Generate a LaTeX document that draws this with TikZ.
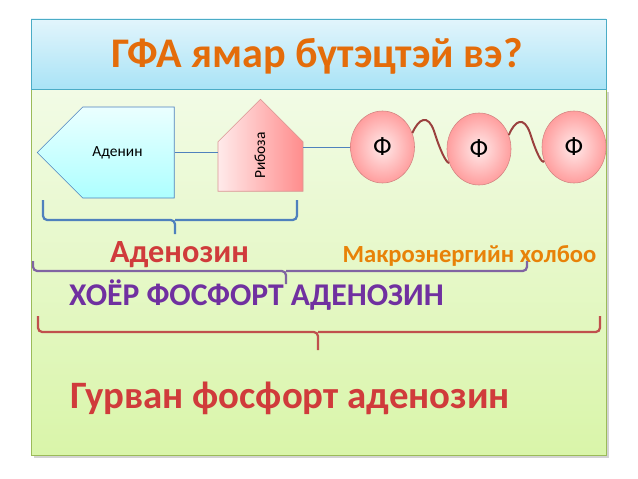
\documentclass[tikz,border=0pt]{standalone}
\usepackage{fontspec}
\setmainfont{Carlito}
\usetikzlibrary{shapes.geometric,shapes.symbols,shadows}
\definecolor{headtop}{HTML}{E2F5FC}
\definecolor{headbot}{HTML}{A9E3F6}
\definecolor{headline}{HTML}{4BACC6}
\definecolor{bodytop}{HTML}{F2FBE6}
\definecolor{bodybot}{HTML}{D9F5A9}
\definecolor{bodyline}{HTML}{9BBB59}
\definecolor{bluebr}{HTML}{4F81BD}
\definecolor{violetbr}{HTML}{8064A2}
\definecolor{redbr}{HTML}{C0504D}
\definecolor{orangetxt}{HTML}{E46C0A}
\definecolor{redtxt}{HTML}{D03B3B}
\definecolor{violettxt}{HTML}{7030A0}

\begin{document}
\begin{tikzpicture}[x=0.025cm,y=-0.025cm]
\tikzstyle{base}=[signal,signal pointer angle=90,draw,inner sep=0pt,font=\fontsize{11}{13}\selectfont]
\tikzstyle{phos}=[ellipse,draw=redbr!70,minimum width=1.6cm,minimum height=1.8cm,shading=radial,inner color=red!8,outer color=red!38,font=\fontsize{19}{22}\selectfont]
\tikzstyle{link}=[draw=bluebr,line width=0.6pt]
\tikzstyle{wave}=[draw=redbr!80!black,line width=1.4pt]
\tikzstyle{brace}=[line width=1.6pt,rounded corners=3pt]
\tikzstyle{label}=[anchor=base,inner sep=0pt,font=\bfseries]
\useasboundingbox (0,0) rectangle (638,479);
    \draw[draw=bodyline,top color=bodytop,bottom color=bodybot,drop shadow={opacity=0.35}] (31,89) rectangle (606,455);
    \draw[draw=headline,top color=headtop,bottom color=headbot] (31,19) rectangle (606,89);
    \node[label,text=orangetxt,font=\bfseries\fontsize{30}{34}\selectfont] (head) at (317,68) {ГФА ямар бүтэцтэй вэ?};
    \node[base,signal to=west,draw=bluebr,top color=cyan!8,bottom color=cyan!32,minimum width=3.425cm,minimum height=2.275cm] (aden) at (128.5,152.5) {};
    \node[font=\fontsize{11}{13}\selectfont] (adentxt) at (117.5,152.5) {Аденин};
    \node[base,signal to=east,rotate=90,draw=redbr!60,left color=red!8,right color=red!45,minimum width=2.3cm,minimum height=2.125cm] (ribo) at (260.5,166.5) {};
    \node[font=\fontsize{11}{13}\selectfont,rotate=90] (ribotxt) at (260,155.5) {Рибоза};
    \node[phos] (f1) at (382.5,147) {Ф};
    \node[phos] (f2) at (479,149) {Ф};
    \node[phos] (f3) at (574,147) {Ф};
    \path (aden.east) edge [link] (aden.east -| ribo.north);
    \path (f1.west -| ribo.south) edge [link] (f1.west);
    \draw[wave] (f1.25) .. controls (419,118) and (428,114) .. (434,131) .. controls (440,150) and (446,163) .. (f2.205);
    \draw[wave] (f2.25) .. controls (515,120) and (524,116) .. (530,133) .. controls (536,152) and (542,165) .. (f3.205);
    \draw[brace,bluebr] (43,200) |- (175,220) -- (175,234);
    \draw[brace,bluebr] (175,220) -| (297,200);
    \node[label,text=redtxt,font=\bfseries\fontsize{23}{27}\selectfont] (adenozin) at (179.5,262) {Аденозин};
    \node[label,text=orangetxt!85!yellow,font=\bfseries\fontsize{17.5}{20}\selectfont] (makro) at (469.5,262) {Макроэнергийн холбоо};
    \draw[brace,violetbr] (33,261) |- (286,271) -- (286,284);
    \draw[brace,violetbr] (286,271) -| (527,261);
    \node[label,text=violettxt,font=\bfseries\fontsize{22.5}{25}\selectfont] (adp) at (256.5,305) {ХОЁР ФОСФОРТ АДЕНОЗИН};
    \draw[brace,redbr] (38,316) |- (318,332) -- (318,350);
    \draw[brace,redbr] (318,332) -| (600,316);
    \node[label,text=redtxt,font=\bfseries\fontsize{27.6}{31}\selectfont] (atp) at (290,408) {Гурван фосфорт аденозин};
\end{tikzpicture}
\end{document}
